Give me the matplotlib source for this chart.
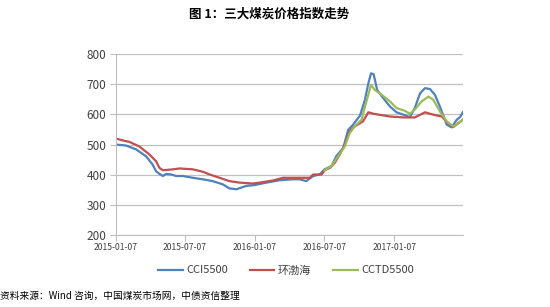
import matplotlib
matplotlib.use("Agg")
import matplotlib.pyplot as plt
import pandas as pd

plt.rcParams['font.family'] = ['Noto Sans CJK SC', 'DejaVu Sans']

# CCI5500
cci_dates = ['2015-01-07', '2015-02-02', '2015-03-01', '2015-03-27', '2015-04-13', '2015-04-22',
             '2015-05-01', '2015-05-10', '2015-05-19', '2015-06-01', '2015-06-14', '2015-07-01',
             '2015-07-28', '2015-08-23', '2015-09-18', '2015-10-15', '2015-11-01', '2015-11-19',
             '2015-12-15', '2016-01-06', '2016-02-06', '2016-03-12', '2016-04-16', '2016-05-04',
             '2016-05-21', '2016-06-08', '2016-06-25', '2016-07-08', '2016-07-26', '2016-08-08',
             '2016-08-26', '2016-09-08', '2016-09-21', '2016-10-09', '2016-10-22', '2016-10-31',
             '2016-11-07', '2016-11-14', '2016-11-23', '2016-12-09', '2016-12-27', '2017-01-13',
             '2017-01-31', '2017-02-17', '2017-03-02', '2017-03-16', '2017-03-29', '2017-04-11',
             '2017-04-24', '2017-05-07', '2017-05-25', '2017-06-07', '2017-06-20', '2017-06-29',
             '2017-07-06']
cci_vals = [500, 497, 484, 461, 434, 412, 403, 396, 403, 401, 396, 396,
            390, 385, 379, 368, 355, 352, 363, 366, 374, 382, 385, 385,
            379, 396, 401, 418, 429, 462, 489, 549, 566, 596, 648, 703,
            736, 733, 681, 654, 626, 607, 599, 591, 621, 670, 687, 684,
            665, 626, 566, 557, 582, 591, 607]

# 环渤海
bsp_dates = ['2015-01-07', '2015-01-24', '2015-02-11', '2015-03-09', '2015-04-05', '2015-04-22',
             '2015-05-01', '2015-05-10', '2015-06-05', '2015-06-23', '2015-07-28', '2015-08-23',
             '2015-09-10', '2015-10-06', '2015-11-01', '2015-11-28', '2016-01-02', '2016-01-19',
             '2016-02-23', '2016-03-21', '2016-05-04', '2016-05-30', '2016-06-08', '2016-06-30',
             '2016-07-08', '2016-07-22', '2016-08-04', '2016-08-17', '2016-08-30', '2016-09-12',
             '2016-09-25', '2016-10-17', '2016-10-31', '2016-11-14', '2016-12-27', '2017-01-31',
             '2017-03-02', '2017-03-29', '2017-04-20', '2017-05-12', '2017-05-29', '2017-06-11',
             '2017-07-06']
bsp_vals = [520, 514, 509, 494, 467, 445, 423, 415, 418, 421, 418, 410,
            401, 390, 379, 374, 371, 374, 381, 390, 390, 390, 401, 401,
            415, 423, 440, 467, 500, 544, 560, 577, 607, 602, 593, 590,
            590, 607, 599, 593, 571, 558, 582]

# CCTD5500
cctd_dates = ['2016-07-08', '2016-07-26', '2016-08-13', '2016-08-30', '2016-09-12', '2016-09-25',
              '2016-10-13', '2016-10-26', '2016-11-07', '2016-11-17', '2016-12-05', '2016-12-27',
              '2017-01-13', '2017-02-04', '2017-02-17', '2017-03-02', '2017-03-20', '2017-04-07',
              '2017-04-20', '2017-05-07', '2017-05-25', '2017-06-11', '2017-07-06']
cctd_vals = [415, 429, 462, 494, 538, 560, 582, 643, 698, 681, 665, 643,
             621, 612, 602, 616, 643, 659, 648, 610, 577, 560, 582]

xticks = ['2015-01-07', '2015-07-07', '2016-01-07', '2016-07-07', '2017-01-07']

fig = plt.figure(figsize=(5.5, 3.07), dpi=100)
ax = fig.add_axes([0.211, 0.234, 0.631, 0.59])

ax.plot(pd.to_datetime(cci_dates), cci_vals, color='#4f81bd', lw=1.6, label='CCI5500')
ax.plot(pd.to_datetime(bsp_dates), bsp_vals, color='#c0504d', lw=1.6, label='环渤海')
ax.plot(pd.to_datetime(cctd_dates), cctd_vals, color='#9bbb59', lw=1.6, label='CCTD5500')

ax.set_ylim(200, 800)
ax.set_yticks(range(200, 801, 100))
ax.set_xlim(pd.Timestamp('2015-01-07'), pd.Timestamp('2017-07-07'))
ax.set_xticks(pd.to_datetime(xticks))
ax.set_xticklabels(xticks)
ax.grid(axis='y', color='#c0c0c0', lw=0.9)
ax.set_axisbelow(True)

for s in ['top', 'right']:
    ax.spines[s].set_visible(False)
for s in ['left', 'bottom']:
    ax.spines[s].set_color('#bfbfbf')
ax.tick_params(axis='y', colors='#bfbfbf', labelcolor='#404040', labelsize=8.5, length=4, pad=3)
ax.tick_params(axis='x', colors='#bfbfbf', labelcolor='#404040', labelsize=6.2, length=4, pad=2)

ax.legend(loc='upper center', bbox_to_anchor=(0.49, -0.11), ncol=3, frameon=False,
          fontsize=8, handlelength=2.2, handletextpad=0.3, columnspacing=2.0,
          labelcolor='#404040')

fig.text(0.49, 0.955, '图 1：三大煤炭价格指数走势', ha='center', va='center',
         fontsize=9, fontweight='bold')
fig.text(0.0, 0.035, '资料来源：Wind 咨询，中国煤炭市场网，中债资信整理', ha='left', va='center',
         fontsize=7)

fig.savefig('out.png', dpi=100)
